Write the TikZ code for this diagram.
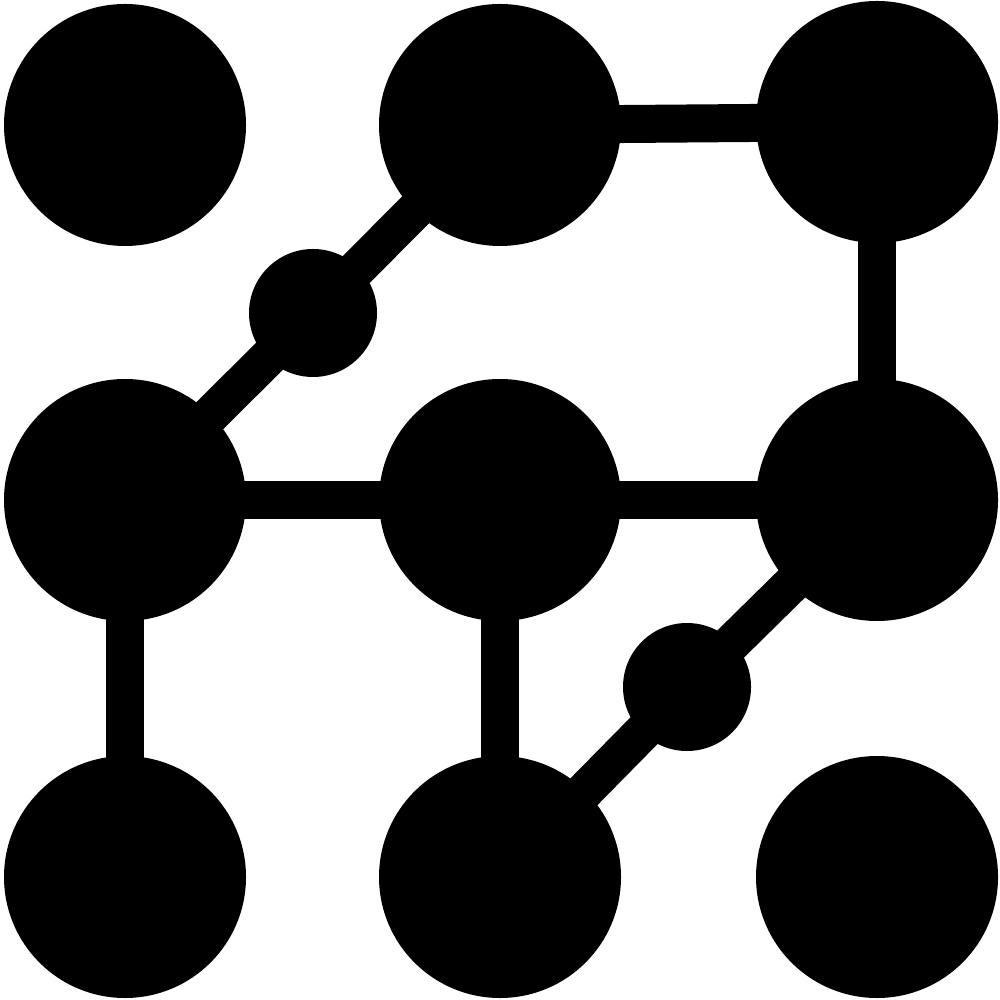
\documentclass[tikz,border=0pt]{standalone}
\usepackage{tikz}
\usetikzlibrary{positioning, calc}

\tikzset{
  bigdot/.style={circle, fill=black, draw=none, inner sep=0pt, minimum size=2.42cm},
  smalldot/.style={circle, fill=black, draw=none, inner sep=0pt, minimum size=1.28cm},
  link/.style={black, line width=0.38cm}
}

\begin{document}
\begin{tikzpicture}
\useasboundingbox (0,0) rectangle (10,9.99);
\node[bigdot] (TL) at (1.25,8.74) {};
\node[bigdot] (TM) at (5.00,8.74) {};
\node[bigdot] (TR) at (8.77,8.77) {};
\node[bigdot] (ML) at (1.25,4.99) {};
\node[bigdot] (MM) at (5.00,4.99) {};
\node[bigdot] (MR) at (8.77,4.99) {};
\node[bigdot] (BL) at (1.25,1.22) {};
\node[bigdot] (BM) at (5.00,1.22) {};
\node[bigdot] (BR) at (8.77,1.22) {};
\node[smalldot] (SA) at (3.13,6.86) {};
\node[smalldot] (SB) at (6.87,3.12) {};
\draw[link] (TM.center) -- (TR.center);
\draw[link] (TR.center) -- (MR.center);
\draw[link] (ML.center) -- (MM.center) -- (MR.center);
\draw[link] (ML.center) -- (BL.center);
\draw[link] (MM.center) -- (BM.center);
\draw[link] (ML.center) -- (SA.center) -- (TM.center);
\draw[link] (MR.center) -- (SB.center) -- (BM.center);
\end{tikzpicture}
\end{document}
